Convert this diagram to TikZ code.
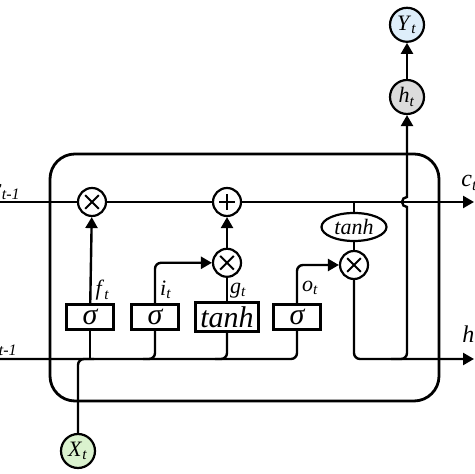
\documentclass[tikz,border=0pt]{standalone}
\usepackage{fontspec}
\setmainfont{Liberation Serif}
\usetikzlibrary{shapes,arrows.meta,positioning}
\definecolor{xfill}{RGB}{218,242,206}
\definecolor{yfill}{RGB}{222,238,250}
\definecolor{hfill}{RGB}{220,220,220}
\tikzstyle{wire} = [line width=1.2pt]
\tikzstyle{arrow} = [wire,-{Triangle[length=5.5pt,width=6pt]}]
\tikzstyle{gate} = [rectangle, draw=black, line width=1.1pt, minimum width=23.5pt, minimum height=12.5pt, inner sep=0pt, font=\fontsize{15}{15}\selectfont\itshape]
\tikzstyle{squash} = [ellipse, draw=black, line width=1.1pt, minimum width=32.5pt, minimum height=14pt, inner sep=0pt, font=\fontsize{11}{11}\selectfont\itshape]
\tikzstyle{op} = [circle, draw=black, line width=1.1pt, minimum size=14pt, inner sep=0pt]
\tikzstyle{times} = [op, path picture={
  \draw[line width=1pt] ([shift={(-3.4pt,-3.4pt)}]path picture bounding box.center) -- ([shift={(3.4pt,3.4pt)}]path picture bounding box.center)
    ([shift={(-3.4pt,3.4pt)}]path picture bounding box.center) -- ([shift={(3.4pt,-3.4pt)}]path picture bounding box.center);}]
\tikzstyle{plus} = [op, path picture={
  \draw[line width=1pt] ([xshift=-4pt]path picture bounding box.center) -- ([xshift=4pt]path picture bounding box.center)
    ([yshift=-4pt]path picture bounding box.center) -- ([yshift=4pt]path picture bounding box.center);}]
\tikzstyle{state} = [circle, draw=black, line width=1.1pt, minimum size=17pt, inner sep=0pt, font=\fontsize{11}{11}\selectfont]
\tikzstyle{lbl} = [inner sep=0pt, font=\fontsize{11}{11}\selectfont]
\tikzstyle{side} = [inner sep=0pt, font=\fontsize{12}{12}\selectfont]
\newcommand{\vsub}[2]{\textit{#1}\textsubscript{\textit{#2}}}

\begin{document}
\begin{tikzpicture}[x=0.5pt,y=0.5pt]
	\useasboundingbox (0,0) rectangle (474,474);
	% cell
	\node[draw, line width=1.4pt, rounded corners=12.5pt, minimum width=194.5pt, minimum height=123.5pt] (cell) at (244.5,196.5) {};
	% gates
	\node[gate] (sigf) at (90,157) {σ};
	\node[gate] (sigi) at (155,157) {σ};
	\node[gate, minimum width=31.5pt, minimum height=14.5pt] (tanhg) at (227,157) {tanh};
	\node[gate] (sigo) at (297,157) {σ};
	% pointwise ops
	\node[times] (mulf) at (92,272) {};
	\node[plus] (add) at (227,272) {};
	\node[times, above=11.75pt of tanhg] (muli) {};
	\node[times] (mulo) at (354,209) {};
	\node[squash] (tanhc) at (354,247) {tanh};
	% in and out
	\node[state, fill=xfill] (Xt) at (78,23) {\vsub{X}{t}};
	\node[state, fill=hfill] (ht) at (407,377) {\vsub{h}{t}};
	\node[state, fill=yfill, above=18pt of ht] (Yt) {\vsub{Y}{t}};
	\coordinate (cin) at (0,272);
	\coordinate (cout) at (474,272);
	\coordinate (hin) at (0,115);
	\coordinate (hout) at (474,115);
	\node[side, anchor=base east] at (21,278) {\textit{c}\textsubscript{\textit{t-1}}};
	\node[side, anchor=base east] at (18,122) {\textit{h}\textsubscript{\textit{t-1}}};
	\node[side, anchor=base west] at (461,287) {\vsub{c}{t}};
	\node[side, anchor=base west] at (462,131) {\vsub{h}{t}};

	% cell state
	\draw[wire] (cin) -- (mulf) -- (add);
	\draw[arrow] (add) -- (cout);
	% hidden state in
	\draw[wire, rounded corners=3pt] (hin) -| (sigo.south);
	\draw[wire] (sigf.south) -- (sigf.south |- hin);
	\draw[wire, rounded corners=3pt] (sigi.south) |- ([xshift=-6pt]sigi.south |- hin);
	\draw[wire, rounded corners=3pt] (tanhg.south) |- ([xshift=-6pt]tanhg.south |- hin);
	\draw[wire, rounded corners=3pt] (Xt) |- ([xshift=8pt]Xt.north |- hin);
	% gates to ops
	\draw[arrow] (sigf) -- node[lbl, pos=0.15, right=2pt] {\vsub{f}{t}} (mulf);
	\draw[arrow, rounded corners=3pt] (sigi) |- node[lbl, pos=0.17, right=2pt] {\vsub{i}{t}} (muli);
	\draw[wire] (tanhg) -- node[lbl, pos=0.45, right=1pt] {\vsub{g}{t}} (muli);
	\draw[arrow] (muli) -- (add);
	\draw[arrow, rounded corners=3pt] (sigo) |- node[lbl, pos=0.2, right=2pt] {\vsub{o}{t}} (mulo);
	\draw[wire] (tanhc.north |- cin) -- (tanhc);
	\draw[wire] (tanhc) -- (mulo);
	% hidden state out
	\draw[arrow, rounded corners=3pt] (mulo) |- (hout);
	\draw[arrow] ([xshift=-8pt]ht.south |- hout) [rounded corners=3pt] -| ([yshift=20pt]ht.south |- hout) [sharp corners]
		-- ([yshift=-2.5pt]ht.south |- cin) arc[start angle=-90, end angle=-270, radius=2.5pt] -- (ht);
	\draw[arrow] (ht) -- (Yt);
\end{tikzpicture}
\end{document}
